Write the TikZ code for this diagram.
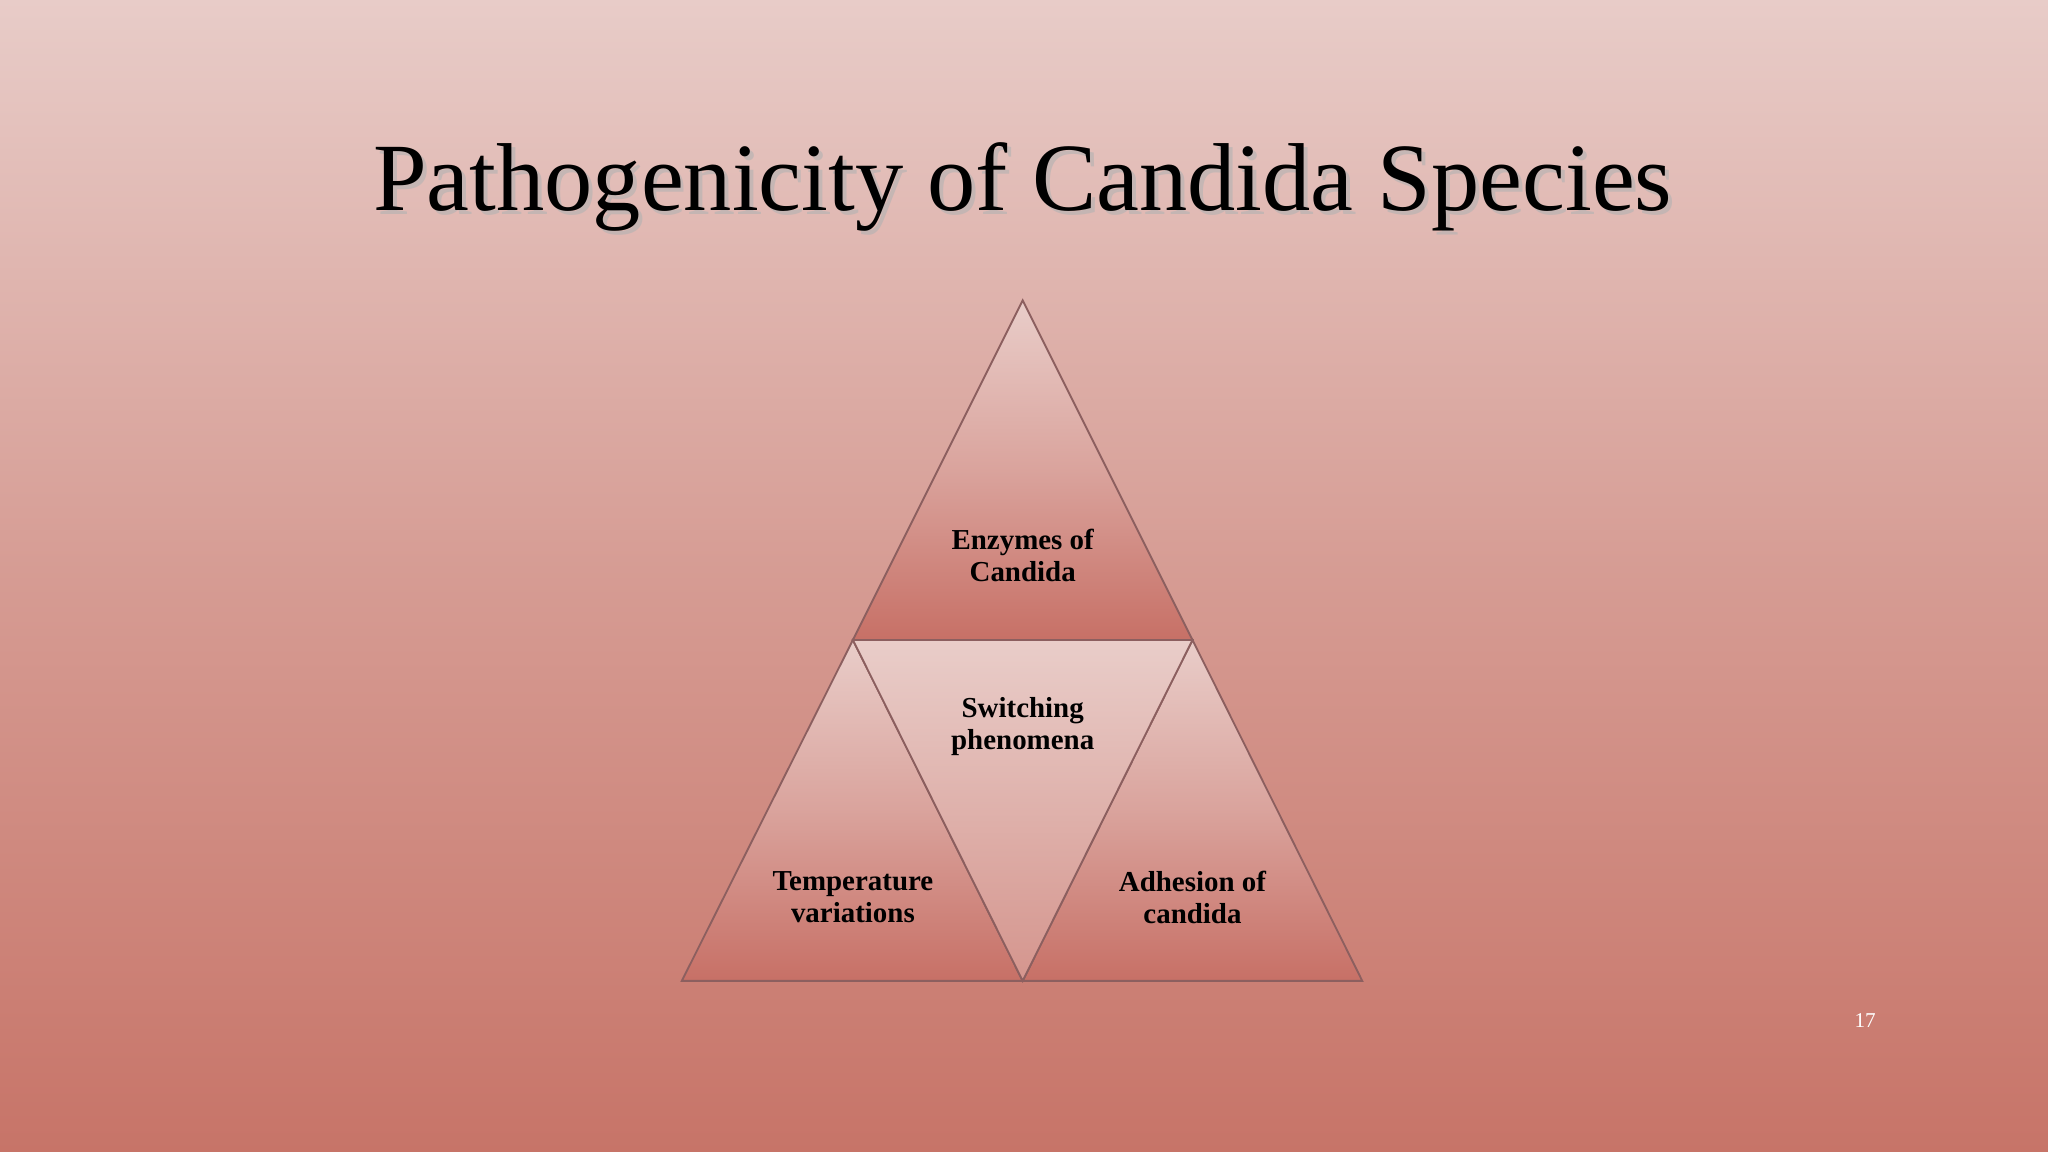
\documentclass[tikz,border=0pt]{standalone}
\usepackage{fontspec}
\setmainfont{Liberation Serif}
\definecolor{bgtop}{RGB}{232,204,200}
\definecolor{bgbot}{RGB}{199,116,104}
\definecolor{tritop}{RGB}{233,205,201}
\definecolor{tribot}{RGB}{199,112,102}
\definecolor{edge}{RGB}{140,95,95}
\begin{document}
\begin{tikzpicture}[x=0.01cm,y=-0.01cm,
  tri/.style={draw=edge,line width=0.4pt,top color=tritop,bottom color=tribot,middle color=tritop!55!tribot},
  lbl/.style={font=\fontsize{6.3}{7}\selectfont\bfseries,align=center,text=black}]
\shade[top color=bgtop,bottom color=bgbot,middle color=bgtop!45!bgbot] (0,0) rectangle (1568,882);
\useasboundingbox (0,0) rectangle (1568,882);
\coordinate (A) at (783,230);
\coordinate (L) at (653,490);
\coordinate (R) at (913,490);
\coordinate (BL) at (522,751);
\coordinate (BM) at (783,751);
\coordinate (BR) at (1043,751);
\shade[tri] (A) -- (R) -- (L) -- cycle;
\shade[tri] (L) -- (BM) -- (BL) -- cycle;
\shade[tri] (R) -- (BR) -- (BM) -- cycle;
\shade[draw=edge,line width=0.4pt,top color=tritop,bottom color=tritop!40!tribot] (L) -- (R) -- (BM) -- cycle;
\node[lbl] (e) at (783,425) {Enzymes of\\Candida};
\node[lbl] (s) at (783,556) {Switching\\phenomena};
\node[lbl] (t) at (653,687) {Temperature\\variations};
\node[lbl] (a) at (913,687) {Adhesion of\\candida};
\node[font=\fontsize{21}{24}\selectfont, text=black!30, opacity=0.6] at (786,146) {Pathogenicity of Candida Species};
\node[font=\fontsize{21}{24}\selectfont, text=black] (title) at (783,143) {Pathogenicity of Candida Species};
\node[font=\fontsize{4.6}{5}\selectfont, text=white] (pg) at (1428,781) {17};
\end{tikzpicture}
\end{document}
